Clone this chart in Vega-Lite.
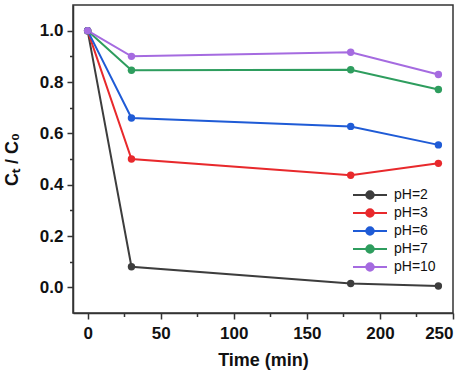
{
  "$schema": "https://vega.github.io/schema/vega-lite/v6.json",
  "width": 380,
  "height": 308,
  "autosize": {"type": "none"},
  "padding": {"left": 73, "top": 5, "right": 21, "bottom": 67},
  "background": "white",
  "config": {
    "view": {"stroke": "#333333", "strokeWidth": 1.5},
    "font": "Liberation Sans"
  },
  "data": {
    "values": [
      {"t": 0, "c": 1.0, "ph": "pH=2"},
      {"t": 30, "c": 0.080, "ph": "pH=2"},
      {"t": 180, "c": 0.015, "ph": "pH=2"},
      {"t": 240, "c": 0.005, "ph": "pH=2"},
      {"t": 0, "c": 1.0, "ph": "pH=3"},
      {"t": 30, "c": 0.500, "ph": "pH=3"},
      {"t": 180, "c": 0.437, "ph": "pH=3"},
      {"t": 240, "c": 0.483, "ph": "pH=3"},
      {"t": 0, "c": 1.0, "ph": "pH=6"},
      {"t": 30, "c": 0.660, "ph": "pH=6"},
      {"t": 180, "c": 0.627, "ph": "pH=6"},
      {"t": 240, "c": 0.555, "ph": "pH=6"},
      {"t": 0, "c": 1.0, "ph": "pH=7"},
      {"t": 30, "c": 0.846, "ph": "pH=7"},
      {"t": 180, "c": 0.848, "ph": "pH=7"},
      {"t": 240, "c": 0.771, "ph": "pH=7"},
      {"t": 0, "c": 1.0, "ph": "pH=10"},
      {"t": 30, "c": 0.900, "ph": "pH=10"},
      {"t": 180, "c": 0.916, "ph": "pH=10"},
      {"t": 240, "c": 0.829, "ph": "pH=10"}
    ]
  },
  "encoding": {
    "x": {
      "field": "t", "type": "quantitative",
      "scale": {"domain": [-10, 250], "nice": false, "zero": false},
      "axis": {
        "title": "Time (min)",
        "values": [0, 25, 50, 75, 100, 125, 150, 175, 200, 225, 250],
        "labelExpr": "datum.value % 50 === 0 ? datum.label : ''",
        "grid": false,
        "domainColor": "#333333", "domainWidth": 1.5,
        "tickColor": "#333333", "tickWidth": 1.5,
        "tickSize": {"condition": {"test": "datum.value % 50 !== 0", "value": 3.5}, "value": 6},
        "labelFont": "Liberation Sans", "labelFontSize": 17, "labelFontWeight": "bold", "labelColor": "#111111",
        "labelPadding": 6,
        "titleFont": "Liberation Sans", "titleFontSize": 18, "titleFontWeight": "bold", "titleColor": "#111111",
        "titlePadding": 10
      }
    },
    "y": {
      "field": "c", "type": "quantitative",
      "scale": {"domain": [-0.1, 1.1], "nice": false, "zero": false},
      "axis": {
        "title": "Cₜ / C₀",
        "values": [0, 0.1, 0.2, 0.3, 0.4, 0.5, 0.6, 0.7, 0.8, 0.9, 1.0],
        "format": ".1f",
        "labelExpr": "round(datum.value * 10) % 2 === 0 ? datum.label : ''",
        "grid": false,
        "domainColor": "#333333", "domainWidth": 1.5,
        "tickColor": "#333333", "tickWidth": 1.5,
        "tickSize": {"condition": {"test": "round(datum.value * 10) % 2 !== 0", "value": 3.5}, "value": 6},
        "labelFont": "Liberation Sans", "labelFontSize": 17, "labelFontWeight": "bold", "labelColor": "#111111",
        "labelPadding": 4,
        "titleFont": "Liberation Sans", "titleFontSize": 18, "titleFontWeight": "bold", "titleColor": "#111111",
        "titlePadding": 18
      }
    },
    "color": {
      "field": "ph", "type": "nominal",
      "scale": {
        "domain": ["pH=2", "pH=3", "pH=6", "pH=7", "pH=10"],
        "range": ["#3d3d3d", "#e8292c", "#1f5bd6", "#2e9d5e", "#a56be0"]
      },
      "legend": {
        "title": null,
        "orient": "none",
        "legendX": 290,
        "legendY": 183,
        "symbolType": "M-3.4,0H3.4M-0.75,0A0.75,0.75 0 1,1 0.75,0A0.75,0.75 0 1,1 -0.75,0Z",
        "symbolSize": 100,
        "symbolStrokeWidth": 2,
        "labelOffset": 17,
        "rowPadding": 2,
        "labelFont": "Liberation Sans",
        "labelFontSize": 14,
        "labelColor": "#111111"
      }
    }
  },
  "layer": [
    {"mark": {"type": "line", "strokeWidth": 2}},
    {"mark": {"type": "point", "filled": true, "size": 55, "opacity": 1}}
  ]
}
